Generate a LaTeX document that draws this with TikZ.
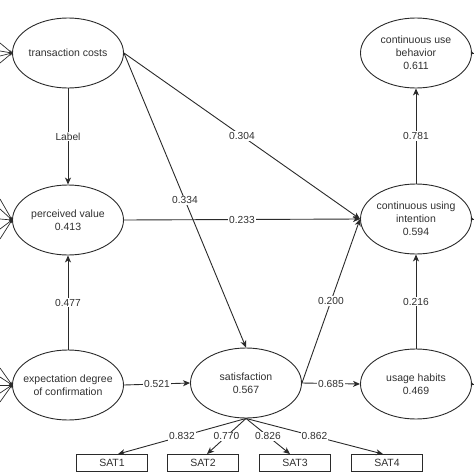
\documentclass[tikz,border=0pt]{standalone}
\usepackage{fontspec}
\setmainfont{Liberation Sans}
\usetikzlibrary{shapes.geometric,arrows.meta}
\definecolor{lc}{HTML}{2A2A2A}
\definecolor{txtc}{HTML}{303030}
\begin{document}
\begin{tikzpicture}[x=1pt,y=-1pt,
  ell/.style={ellipse,draw=lc,line width=0.9pt,minimum width=111pt,minimum height=70pt,inner sep=0pt},
  txt/.style={align=center,font=\fontsize{10.5}{12.8}\selectfont,text=txtc},
  sbox/.style={rectangle,draw=lc,line width=0.9pt,minimum width=71pt,minimum height=17pt,inner sep=0pt,font=\fontsize{10.5}{12}\selectfont,text=txtc},
  conn/.style={draw=lc,line width=0.9pt,-{Stealth[length=7pt,width=6pt,inset=2pt]}},
  fan/.style={draw=lc,line width=0.7pt,-{Stealth[length=3pt,width=3pt]}},
  lab/.style={fill=white,inner sep=1pt,font=\fontsize{10.2}{12}\selectfont,text=txtc}
]
\useasboundingbox (0,0) rectangle (474,474);
% latent variables
\node[ell,label={[txt]center:{transaction costs}}] (tc) at (68,53) {};
\node[ell,label={[txt]center:{perceived value\\0.413}}] (pv) at (68,220) {};
\node[ell,label={[txt]center:{expectation degree\\of confirmation}}] (ed) at (68,385) {};
\node[ell,label={[txt]center:{satisfaction\\0.567}}] (sat) at (246,383) {};
\node[ell,label={[txt]center:{usage habits\\0.469}}] (uh) at (416,384) {};
\node[ell,label={[txt]center:{continuous using\\intention\\0.594}}] (cui) at (416,219) {};
\node[ell,label={[txt]center:{continuous use\\behavior\\0.611}}] (cub) at (416,53) {};
% indicators
\node[sbox] (s1) at (112,463) {SAT1};
\node[sbox] (s2) at (203,463) {SAT2};
\node[sbox] (s3) at (295,463) {SAT3};
\node[sbox] (s4) at (387,463) {SAT4};
% structural paths
\draw[conn] (tc) -- node[lab]{Label} (pv);
\draw[conn] (tc.east) -- node[lab]{0.304} (cui.west);
\draw[conn] (tc.east) -- node[lab]{0.334} (sat.north);
\draw[conn] (pv.east) -- node[lab]{0.233} (cui.west);
\draw[conn] (ed) -- node[lab]{0.477} (pv);
\draw[conn] (ed.east) -- node[lab]{0.521} (sat.west);
\draw[conn] (sat.east) -- node[lab]{0.200} (cui.west);
\draw[conn] (sat.east) -- node[lab]{0.685} (uh.west);
\draw[conn] (uh) -- node[lab]{0.216} (cui);
\draw[conn] (cui) -- node[lab]{0.781} (cub);
% measurement paths
\draw[conn] (sat.south) -- node[lab]{0.832} ([xshift=6pt]s1.north);
\draw[conn] (sat.south) -- node[lab]{0.770} ([xshift=4pt]s2.north);
\draw[conn] (sat.south) -- node[lab]{0.826} ([xshift=-5pt]s3.north);
\draw[conn] (sat.south) -- node[lab]{0.862} ([xshift=-4pt]s4.north);
% fans from outside the crop
\foreach \y [count=\i] in {43,51,56,63} {\coordinate (a\i) at (0,\y); \draw[fan] (a\i) -- (tc.west);}
\foreach \y [count=\i] in {199,209,219,229,239} {\coordinate (b\i) at (0,\y); \draw[fan] (b\i) -- (pv.west);}
\foreach \y [count=\i] in {368,377,385,393,402} {\coordinate (c\i) at (0,\y); \draw[fan] (c\i) -- (ed.west);}
% right edge stubs
\coordinate (r1) at (474,53);
\coordinate (r2) at (474,219);
\coordinate (r3) at (474,384);
\fill[lc] (cub.east) circle (1.4pt);
\fill[lc] (cui.east) circle (1.4pt);
\fill[lc] (uh.east) circle (1.4pt);
\draw[lc,line width=0.7pt] (cub.east) -- (r1);
\draw[lc,line width=0.7pt] (cui.east) -- (r2);
\draw[lc,line width=0.7pt] (uh.east) -- (r3);
\end{tikzpicture}
\end{document}
